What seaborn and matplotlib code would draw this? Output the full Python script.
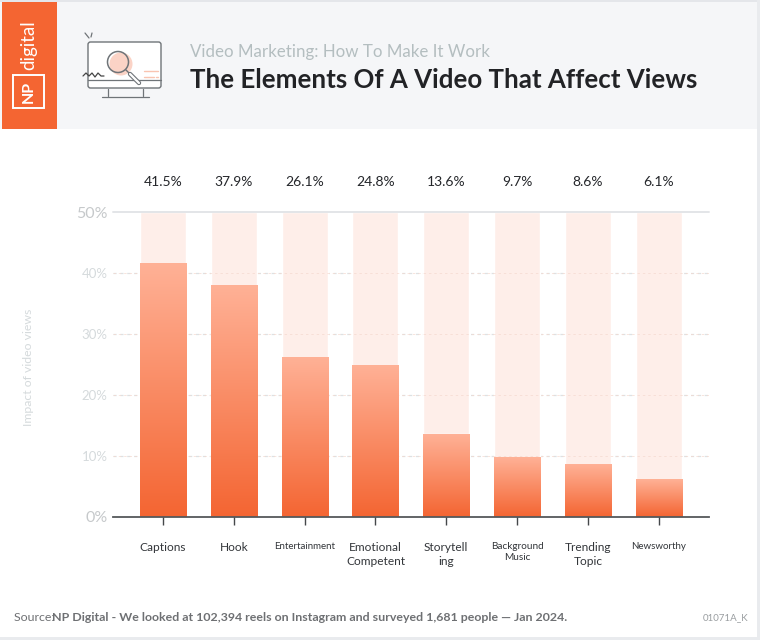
import numpy as np
import pandas as pd
import matplotlib
matplotlib.use("Agg")
import matplotlib.pyplot as plt
from matplotlib.colors import LinearSegmentedColormap
from matplotlib.patches import Rectangle, FancyBboxPatch, Circle
import seaborn as sns

categories = ["Captions", "Hook", "Entertainment", "Emotional\nCompetent", "Storytell\ning",
              "Background\nMusic", "Trending\nTopic", "Newsworthy"]
impact = [41.5, 37.9, 26.1, 24.8, 13.6, 9.7, 8.6, 6.1]
value_labels = ["41.5%", "37.9%", "26.1%", "24.8%", "13.6%", "9.7%", "8.6%", "6.1%"]
small_label_size = {"Entertainment": 7.0, "Background\nMusic": 7.2, "Newsworthy": 7.0}
y_ticks = [0, 10, 20, 30, 40, 50]
axis_max = 50

ORANGE = "#F46532"
sns.set_theme(style="white")
plt.rcParams["font.family"] = ["Lato", "DejaVu Sans"]

W, H = 760, 640
fig = plt.figure(figsize=(W / 100, H / 100), dpi=100, facecolor="white")

# Page furniture drawn in pixel coordinates
page = fig.add_axes([0, 0, 1, 1], zorder=0)
page.set_xlim(0, W)
page.set_ylim(H, 0)
page.axis("off")
page.add_patch(Rectangle((0, 0), W, 2, fc="#E4E6EA", lw=0))
page.add_patch(Rectangle((757, 0), 3, H, fc="#E9EBEE", lw=0))
page.add_patch(Rectangle((0, 637), W, 3, fc="#E9EBEE", lw=0))
page.add_patch(Rectangle((0, 2), 757, 127, fc="#F5F6F8", lw=0))
page.add_patch(Rectangle((2, 2), 55, 127, fc=ORANGE, lw=0))

# Logo block
page.add_patch(Rectangle((13, 75), 31, 33, fc="none", ec="white", lw=1.4))
page.text(29, 91.5, "NP", color="white", rotation=90, ha="center", va="center",
          fontsize=11.5, fontweight="bold")
page.text(29, 45, "digital", color="white", rotation=90, ha="center", va="center",
          fontsize=13.5)

# Monitor with magnifier icon
ic = "#6F7478"
page.add_patch(FancyBboxPatch((88, 42), 73, 46, boxstyle="round,pad=0,rounding_size=2.5",
                              fc="white", ec=ic, lw=1.0))
page.plot([88, 161], [80, 80], color=ic, lw=0.9)
page.plot([108, 108], [88.5, 96], color=ic, lw=0.9)
page.plot([143, 143], [88.5, 96], color=ic, lw=0.9)
page.plot([102, 149], [96.5, 96.5], color=ic, lw=0.9)
page.plot([85, 89], [33, 38], color=ic, lw=0.9)
page.plot([92, 91], [33, 37], color=ic, lw=0.9)
page.add_patch(Circle((121, 64), 11.5, fc="#FBD3C6", ec="none"))
page.add_patch(Circle((118, 62), 10.5, fc="none", ec=ic, lw=1.1))
page.plot([126, 130], [70, 74], color=ic, lw=1.0)
page.plot([130, 139], [74, 83], color=ic, lw=3.2, solid_capstyle="round")
page.plot([130, 139], [74, 83], color="white", lw=1.6, solid_capstyle="round")
page.plot([83, 86, 89, 92, 95, 98, 101, 104], [76, 73, 76, 73, 77, 73, 76, 76], color="#444444", lw=0.9)
page.plot([144, 158], [71, 71], color="#F9C4B1", lw=1)
page.plot([144, 154], [77, 77], color="#F9C4B1", lw=1)
page.plot([156, 158], [77, 77], color="#F9C4B1", lw=1)

page.text(190, 52, "Video Marketing: How To Make It Work", color="#B4BEC0", fontsize=12.2,
          ha="left", va="center")
page.text(190, 80, "The Elements Of A Video That Affect Views", color="#222326", fontsize=18.6,
          fontweight="bold", ha="left", va="center")

# Footer
page.text(14, 617.5, "Source: ", color="#6E7073", fontsize=8.9, ha="left", va="center")
page.text(52, 617.5, "NP Digital - We looked at 102,394 reels on Instagram and surveyed 1,681 people — Jan 2024.",
          color="#6E7073", fontsize=8.9, fontweight="bold", ha="left", va="center")
page.text(748, 618, "01071A_K", color="#9A9EA1", fontsize=7, ha="right", va="center")

# Chart area
ax = fig.add_axes([113 / W, 1 - 517 / H, (709 - 113) / W, (517 - 212) / H], zorder=1)
ax.patch.set_alpha(0)
df = pd.DataFrame({"category": categories, "impact": impact, "ceiling": axis_max})
sns.barplot(data=df, x="category", y="ceiling", color="#FEEEE9", saturation=1, width=0.65,
            ax=ax, zorder=2)
n_track = len(ax.patches)
sns.barplot(data=df, x="category", y="impact", color="#FFAF94", saturation=1, width=0.65,
            ax=ax, zorder=3)

ax.set_xlim(-0.706, 7.71)
ax.set_ylim(0, axis_max)

# Fill each value bar with a vertical fade, brightest at its base
fade = LinearSegmentedColormap.from_list("fade", [ORANGE, "#FFB196"])
ramp = np.linspace(0, 1, 256).reshape(-1, 1)
for bar in ax.patches[n_track:]:
    x0, w, h = bar.get_x(), bar.get_width(), bar.get_height()
    ax.imshow(ramp, cmap=fade, origin="lower", aspect="auto", extent=(x0, x0 + w, 0, h), zorder=4)
ax.set_xlim(-0.706, 7.71)
ax.set_ylim(0, axis_max)

for y in y_ticks[1:-1]:
    ax.axhline(y, color="#DDE1E3", lw=0.9, ls=(0, (2.5, 3)), zorder=1)
    ax.axhline(y, color="#F5D9CF", lw=0.7, ls=(0, (2.5, 3)), zorder=2.5, xmin=0, xmax=1, alpha=0.7)
ax.axhline(50, color="#E3E5E8", lw=1.4, zorder=5, clip_on=False)

for s in ["top", "right", "left"]:
    ax.spines[s].set_visible(False)
ax.spines["bottom"].set_color("#55585B")
ax.spines["bottom"].set_linewidth(1.3)
ax.spines["bottom"].set_zorder(6)

ax.set_yticks(y_ticks)
ax.set_yticklabels([f"{t}%" for t in y_ticks], color="#D5DADC", fontsize=9.5)
for lbl, t in zip(ax.get_yticklabels(), y_ticks):
    if t in (0, 50):
        lbl.set_fontsize(11.5)
        lbl.set_color("#C6C9CB")
ax.tick_params(axis="y", length=0, pad=4)
ax.set_xticks(range(len(categories)))
ax.set_xticklabels(categories, color="#33363A", fontsize=8.6, linespacing=1.25, va="top")
for lbl in ax.get_xticklabels():
    lbl.set_fontsize(small_label_size.get(lbl.get_text(), 8.6))
    lbl.set_y(-0.015)
ax.tick_params(axis="x", direction="inout", length=12, width=1.0, color="#44474A", pad=9,
               bottom=True)
for tick in ax.xaxis.get_major_ticks():
    tick.tick1line.set_zorder(7)
ax.set_xlabel("")
ax.set_ylabel("Impact of video views", color="#D5DADC", fontsize=8.8, labelpad=0)
ax.yaxis.set_label_coords((30 + 4 - 113) / (709 - 113), (517 - 367) / (517 - 212))

# Value captions above the plot
for i, txt in enumerate(value_labels):
    ax.text(i, 50 + (212 - 182) / 305 * 50, txt, color="#24262A", fontsize=10, ha="center", va="center")

fig.savefig("out.png", dpi=100, facecolor="white")
